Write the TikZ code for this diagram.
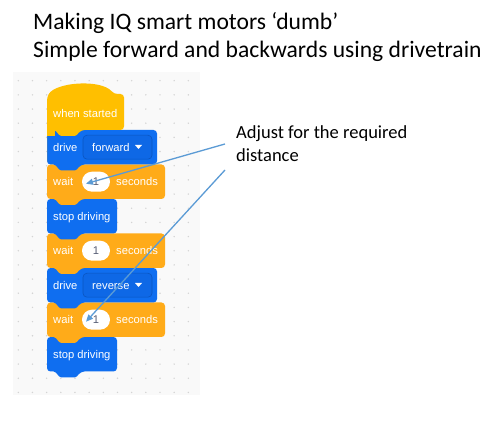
\documentclass[tikz,border=0pt]{standalone}
\usepackage{fontspec}
\setmainfont{Carlito}
\newfontfamily\blockfont{Liberation Sans}
\usetikzlibrary{arrows.meta}
\definecolor{hatyellow}{HTML}{FFBF00}
\definecolor{driveblue}{HTML}{0F6EF0}
\definecolor{fieldblue}{HTML}{0E68E6}
\definecolor{fieldedge}{HTML}{0A55C0}
\definecolor{waitorange}{HTML}{FFAB19}
\definecolor{panelgrey}{HTML}{F9F9F9}
\definecolor{dotgrey}{HTML}{D4D4D4}
\definecolor{numgrey}{HTML}{575E75}
\definecolor{callout}{HTML}{5B9BD5}
\newcommand\vblock[4]{%
  \fill[#4, rounded corners=3.5pt] (#1,#2) -- ++(#3,0) -- ++(0,34.5) -- (#1+34,#2+34.5)
    [rounded corners=1.5pt] -- (#1+29,#2+40.5) -- (#1+13,#2+40.5) -- (#1+8,#2+34.5)
    [rounded corners=3.5pt] -- (#1,#2+34.5) -- cycle;}
\tikzset{
  btext/.style={anchor=base west, inner sep=0pt, text=white, font=\blockfont\fontsize{11.2}{13}\selectfont},
  numoval/.style={fill=white, rounded corners=10pt, minimum width=28pt, minimum height=20pt, inner sep=0pt,
    text=numgrey, font=\blockfont\fontsize{11.2}{13}\selectfont},
  ddfield/.style={fill=fieldblue, draw=fieldedge, line width=0.6pt, rounded corners=4pt,
    minimum width=69pt, minimum height=24pt, inner sep=0pt},
  title/.style={anchor=base west, inner sep=0pt, font=\fontsize{23.6}{28}\selectfont},
  note/.style={anchor=base west, inner sep=0pt, font=\fontsize{18.5}{23}\selectfont, align=left},
  pointer/.style={draw=callout, line width=1.3pt, -{Triangle[length=7pt,width=6pt]}}
}
\begin{document}
\begin{tikzpicture}[x=1pt,y=-1pt]
\useasboundingbox (0,0) rectangle (499,427);
\fill[white] (0,0) rectangle (499,427);
% titles
\node[title] (t1) at (33,30) {Making IQ smart motors ‘dumb’};
\node[title] (t2) at (33,58) {Simple forward and backwards using drivetrain};
% panel
\fill[panelgrey] (13,72) rectangle (200,395);
\foreach \i in {0,...,12} {
  \foreach \j in {0,...,22} {
    \fill[dotgrey] (18.3+\i*14.17, 80.7+\j*14.17) circle (0.8pt);
  }
}
% blocks, drawn bottom-up so tabs overlap
\vblock{47}{337}{70}{driveblue}
\vblock{47}{302.5}{118}{waitorange}
\vblock{47}{268}{110}{driveblue}
\vblock{47}{233.5}{118}{waitorange}
\vblock{47}{199}{70}{driveblue}
\vblock{47}{164.5}{118}{waitorange}
\vblock{47}{130}{110}{driveblue}
% hat block
\fill[hatyellow, rounded corners=3.5pt] (47,164.5) -- (47,97)
  .. controls (56,82) and (101,79) .. (114,94) -- (124,94) -- (124,130)
  -- (81,130) [rounded corners=1.5pt] -- (76,136) -- (60,136) -- (55,130)
  [rounded corners=3.5pt] -- (47,130) -- cycle;
\fill[hatyellow] (47,128) rectangle (55,136);
% block texts
\node[btext] (hat) at (53,117.5) {when started};
\node[btext] (d1) at (53,151.5) {drive};
\node[ddfield] (f1) at (117.5,147.2) {};
\node[btext] (f1t) at (92,151.5) {forward};
\fill[white] (135,145) -- (142,145) -- (138.5,149) -- cycle;
\node[btext] (w1) at (53,186) {wait};
\node[numoval] (o1) at (96,181.7) {1};
\node[btext] (s1) at (116,186) {seconds};
\node[btext] (sd1) at (53,220.5) {stop driving};
\node[btext] (w2) at (53,255) {wait};
\node[numoval] (o2) at (96,250.7) {1};
\node[btext] (s2) at (116,255) {seconds};
\node[btext] (d2) at (53,289.5) {drive};
\node[ddfield] (f2) at (117.5,285.2) {};
\node[btext] (f2t) at (92,289.5) {reverse};
\fill[white] (135,283) -- (142,283) -- (138.5,287) -- cycle;
\node[btext] (w3) at (53,324) {wait};
\node[numoval] (o3) at (96,319.7) {1};
\node[btext] (s3) at (116,324) {seconds};
\node[btext] (sd2) at (53,358.5) {stop driving};
% note
\node[note] (n) at (236,162) {Adjust for the required\\distance};
\coordinate (a1) at (225,144);
\coordinate (a2) at (225,170);
\coordinate (e1) at ([xshift=-10pt,yshift=-2pt]o1.center);
\coordinate (e2) at ([xshift=-10pt,yshift=-2pt]o3.center);
\draw[pointer] (a1) -- (e1);
\draw[pointer] (a2) -- (e2);
\end{tikzpicture}
\end{document}
